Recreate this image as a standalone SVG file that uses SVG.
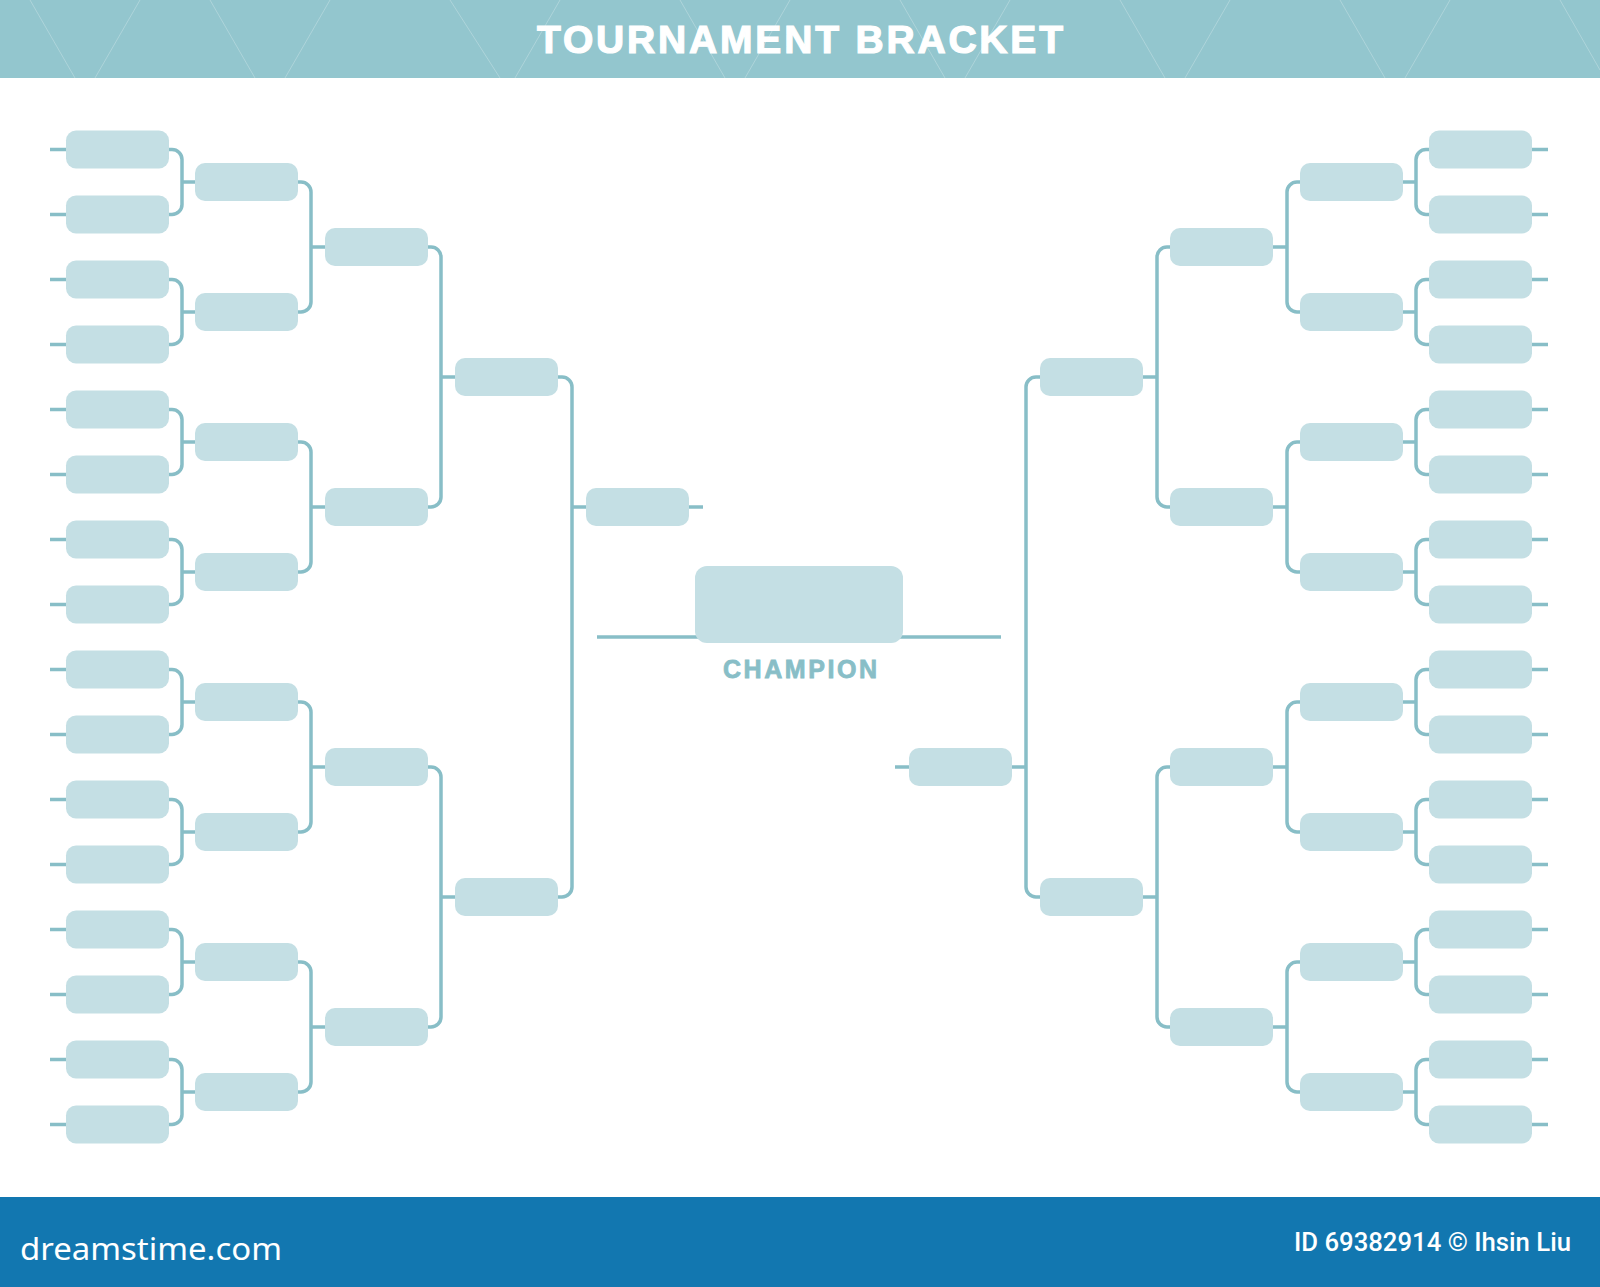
<svg xmlns="http://www.w3.org/2000/svg" width="1600" height="1287" viewBox="0 0 1600 1287">
<style>
.b{fill:#C4DFE4}
.c{fill:none;stroke:#88BEC7;stroke-width:3.5}
.h{fill:#93C6CE}
</style>
<defs>
<rect id="box" width="103" height="38" rx="10" class="b"/>
</defs>
<rect width="1600" height="1287" fill="#FFFFFF"/>
<g id="header">
<rect x="0" y="0" width="1600" height="78" class="h"/>
<g stroke="#FFFFFF" stroke-opacity="0.25" stroke-width="1" fill="none">
<path d="M30 0L75 78M140 0L95 78M210 0L255 78M330 0L285 78M450 0L500 78M560 0L515 78M680 0L725 78M790 0L745 78M900 0L945 78M1010 0L965 78M1120 0L1165 78M1230 0L1185 78M1340 0L1385 78M1450 0L1405 78M1560 0L1600 70"/>
</g>
<text x="800" y="53" text-anchor="middle" font-family="Liberation Sans, Arial, sans-serif" font-weight="bold" font-size="39" fill="#FFFFFF" stroke="#FFFFFF" stroke-width="1.2" textLength="526" lengthAdjust="spacing">TOURNAMENT BRACKET</text>
</g>
<g id="connectors" class="c">
<path d="M50 149.5H66M50 214.5H66M50 279.5H66M50 344.5H66M50 409.5H66M50 474.5H66M50 539.5H66M50 604.5H66M50 669.5H66M50 734.5H66M50 799.5H66M50 864.5H66M50 929.5H66M50 994.5H66M50 1059.5H66M50 1124.5H66"/>
<path d="M169 149.5H172A10 10 0 0 1 182 159.5V204.5A10 10 0 0 1 172 214.5H169M182 182H195"/>
<path d="M169 279.5H172A10 10 0 0 1 182 289.5V334.5A10 10 0 0 1 172 344.5H169M182 312H195"/>
<path d="M169 409.5H172A10 10 0 0 1 182 419.5V464.5A10 10 0 0 1 172 474.5H169M182 442H195"/>
<path d="M169 539.5H172A10 10 0 0 1 182 549.5V594.5A10 10 0 0 1 172 604.5H169M182 572H195"/>
<path d="M169 669.5H172A10 10 0 0 1 182 679.5V724.5A10 10 0 0 1 172 734.5H169M182 702H195"/>
<path d="M169 799.5H172A10 10 0 0 1 182 809.5V854.5A10 10 0 0 1 172 864.5H169M182 832H195"/>
<path d="M169 929.5H172A10 10 0 0 1 182 939.5V984.5A10 10 0 0 1 172 994.5H169M182 962H195"/>
<path d="M169 1059.5H172A10 10 0 0 1 182 1069.5V1114.5A10 10 0 0 1 172 1124.5H169M182 1092H195"/>
<path d="M298 182H301A10 10 0 0 1 311 192V302A10 10 0 0 1 301 312H298M311 247H325"/>
<path d="M298 442H301A10 10 0 0 1 311 452V562A10 10 0 0 1 301 572H298M311 507H325"/>
<path d="M298 702H301A10 10 0 0 1 311 712V822A10 10 0 0 1 301 832H298M311 767H325"/>
<path d="M298 962H301A10 10 0 0 1 311 972V1082A10 10 0 0 1 301 1092H298M311 1027H325"/>
<path d="M428 247H431A10 10 0 0 1 441 257V497A10 10 0 0 1 431 507H428M441 377H455"/>
<path d="M428 767H431A10 10 0 0 1 441 777V1017A10 10 0 0 1 431 1027H428M441 897H455"/>
<path d="M558 377H562A10 10 0 0 1 572 387V887A10 10 0 0 1 562 897H558M572 507H586"/>
<path d="M689 507H703"/>
<path d="M1532 149.5H1548M1532 214.5H1548M1532 279.5H1548M1532 344.5H1548M1532 409.5H1548M1532 474.5H1548M1532 539.5H1548M1532 604.5H1548M1532 669.5H1548M1532 734.5H1548M1532 799.5H1548M1532 864.5H1548M1532 929.5H1548M1532 994.5H1548M1532 1059.5H1548M1532 1124.5H1548"/>
<path d="M1429 149.5H1426A10 10 0 0 0 1416 159.5V204.5A10 10 0 0 0 1426 214.5H1429M1416 182H1403"/>
<path d="M1429 279.5H1426A10 10 0 0 0 1416 289.5V334.5A10 10 0 0 0 1426 344.5H1429M1416 312H1403"/>
<path d="M1429 409.5H1426A10 10 0 0 0 1416 419.5V464.5A10 10 0 0 0 1426 474.5H1429M1416 442H1403"/>
<path d="M1429 539.5H1426A10 10 0 0 0 1416 549.5V594.5A10 10 0 0 0 1426 604.5H1429M1416 572H1403"/>
<path d="M1429 669.5H1426A10 10 0 0 0 1416 679.5V724.5A10 10 0 0 0 1426 734.5H1429M1416 702H1403"/>
<path d="M1429 799.5H1426A10 10 0 0 0 1416 809.5V854.5A10 10 0 0 0 1426 864.5H1429M1416 832H1403"/>
<path d="M1429 929.5H1426A10 10 0 0 0 1416 939.5V984.5A10 10 0 0 0 1426 994.5H1429M1416 962H1403"/>
<path d="M1429 1059.5H1426A10 10 0 0 0 1416 1069.5V1114.5A10 10 0 0 0 1426 1124.5H1429M1416 1092H1403"/>
<path d="M1300 182H1297A10 10 0 0 0 1287 192V302A10 10 0 0 0 1297 312H1300M1287 247H1273"/>
<path d="M1300 442H1297A10 10 0 0 0 1287 452V562A10 10 0 0 0 1297 572H1300M1287 507H1273"/>
<path d="M1300 702H1297A10 10 0 0 0 1287 712V822A10 10 0 0 0 1297 832H1300M1287 767H1273"/>
<path d="M1300 962H1297A10 10 0 0 0 1287 972V1082A10 10 0 0 0 1297 1092H1300M1287 1027H1273"/>
<path d="M1170 247H1167A10 10 0 0 0 1157 257V497A10 10 0 0 0 1167 507H1170M1157 377H1143"/>
<path d="M1170 767H1167A10 10 0 0 0 1157 777V1017A10 10 0 0 0 1167 1027H1170M1157 897H1143"/>
<path d="M1040 377H1036A10 10 0 0 0 1026 387V887A10 10 0 0 0 1036 897H1040M1026 767H1012"/>
<path d="M909 767H895"/>
<path d="M597 637H1001"/>
</g>
<g id="left-r1">
<use href="#box" x="66" y="130.5"/><use href="#box" x="66" y="195.5"/><use href="#box" x="66" y="260.5"/><use href="#box" x="66" y="325.5"/>
<use href="#box" x="66" y="390.5"/><use href="#box" x="66" y="455.5"/><use href="#box" x="66" y="520.5"/><use href="#box" x="66" y="585.5"/>
<use href="#box" x="66" y="650.5"/><use href="#box" x="66" y="715.5"/><use href="#box" x="66" y="780.5"/><use href="#box" x="66" y="845.5"/>
<use href="#box" x="66" y="910.5"/><use href="#box" x="66" y="975.5"/><use href="#box" x="66" y="1040.5"/><use href="#box" x="66" y="1105.5"/>
</g>
<g id="left-r2">
<use href="#box" x="195" y="163"/><use href="#box" x="195" y="293"/><use href="#box" x="195" y="423"/><use href="#box" x="195" y="553"/>
<use href="#box" x="195" y="683"/><use href="#box" x="195" y="813"/><use href="#box" x="195" y="943"/><use href="#box" x="195" y="1073"/>
</g>
<g id="left-r3">
<use href="#box" x="325" y="228"/><use href="#box" x="325" y="488"/><use href="#box" x="325" y="748"/><use href="#box" x="325" y="1008"/>
</g>
<g id="left-r4">
<use href="#box" x="455" y="358"/><use href="#box" x="455" y="878"/>
</g>
<g id="left-semifinal">
<use href="#box" x="586" y="488"/>
</g>
<g id="right-r1">
<use href="#box" x="1429" y="130.5"/><use href="#box" x="1429" y="195.5"/><use href="#box" x="1429" y="260.5"/><use href="#box" x="1429" y="325.5"/>
<use href="#box" x="1429" y="390.5"/><use href="#box" x="1429" y="455.5"/><use href="#box" x="1429" y="520.5"/><use href="#box" x="1429" y="585.5"/>
<use href="#box" x="1429" y="650.5"/><use href="#box" x="1429" y="715.5"/><use href="#box" x="1429" y="780.5"/><use href="#box" x="1429" y="845.5"/>
<use href="#box" x="1429" y="910.5"/><use href="#box" x="1429" y="975.5"/><use href="#box" x="1429" y="1040.5"/><use href="#box" x="1429" y="1105.5"/>
</g>
<g id="right-r2">
<use href="#box" x="1300" y="163"/><use href="#box" x="1300" y="293"/><use href="#box" x="1300" y="423"/><use href="#box" x="1300" y="553"/>
<use href="#box" x="1300" y="683"/><use href="#box" x="1300" y="813"/><use href="#box" x="1300" y="943"/><use href="#box" x="1300" y="1073"/>
</g>
<g id="right-r3">
<use href="#box" x="1170" y="228"/><use href="#box" x="1170" y="488"/><use href="#box" x="1170" y="748"/><use href="#box" x="1170" y="1008"/>
</g>
<g id="right-r4">
<use href="#box" x="1040" y="358"/><use href="#box" x="1040" y="878"/>
</g>
<g id="right-semifinal">
<use href="#box" x="909" y="748"/>
</g>
<g id="champion">
<rect x="695" y="566" width="208" height="77" rx="12" class="b"/>
<text x="800" y="678" text-anchor="middle" font-family="Liberation Sans, Arial, sans-serif" font-weight="bold" font-size="25" fill="#88BEC7" stroke="#88BEC7" stroke-width="0.8" textLength="154" lengthAdjust="spacing">CHAMPION</text>
</g>
<g id="footer">
<rect x="0" y="1197" width="1600" height="90" fill="#1277B0"/>
<text x="20" y="1260" font-family="Noto Sans, sans-serif" font-size="30" fill="#FFFFFF" textLength="262" lengthAdjust="spacingAndGlyphs">dreamstime.com</text>
<text x="1571" y="1251" text-anchor="end" font-family="Roboto, sans-serif" font-weight="500" font-size="26" fill="#FFFFFF" textLength="277" lengthAdjust="spacingAndGlyphs">ID 69382914 © Ihsin Liu</text>
</g>
</svg>
